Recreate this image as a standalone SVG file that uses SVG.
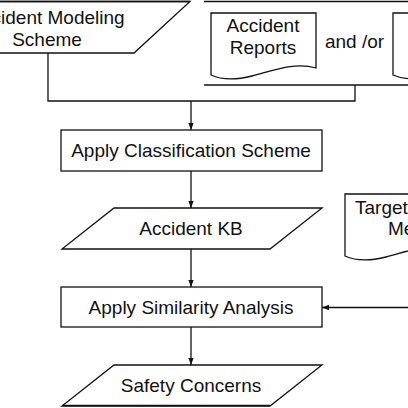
<svg xmlns="http://www.w3.org/2000/svg" width="408" height="408" viewBox="0 0 408 408">
<defs>
<style>
.s{fill:#fff;stroke:#111;stroke-width:1.3}
.l{fill:none;stroke:#111;stroke-width:1.3}
.t{font-family:"Liberation Sans",Arial,Helvetica,sans-serif;font-size:19px;fill:#111}
.m{text-anchor:middle}
</style>
<marker id="ah" viewBox="0 0 10 10" refX="10" refY="5" markerWidth="7" markerHeight="7" markerUnits="userSpaceOnUse" orient="auto">
<path d="M0,1.2 L10,5 L0,8.8 Z" fill="#111"/>
</marker>
</defs>
<rect width="408" height="408" fill="#fff"/>
<g id="connectors">
<polyline class="l" points="48,53 48,101 355,101 355,85"/>
<line class="l" x1="204" y1="85" x2="408" y2="85"/>
<line class="l" x1="204" y1="1.5" x2="408" y2="1.5" stroke-width="2.6"/>
<line class="l" x1="191" y1="101" x2="191" y2="130" marker-end="url(#ah)"/>
<line class="l" x1="191" y1="171" x2="191" y2="208" marker-end="url(#ah)"/>
<line class="l" x1="191" y1="249" x2="191" y2="287" marker-end="url(#ah)"/>
<line class="l" x1="191" y1="327" x2="191" y2="365" marker-end="url(#ah)"/>
<line class="l" x1="408" y1="307.5" x2="322" y2="307.5" marker-end="url(#ah)"/>
</g>
<g id="modeling-scheme">
<polygon class="s" points="-60,1.5 190,1.5 134,53 -60,53"/>
<line class="l" x1="0" y1="1.5" x2="190" y2="1.5" stroke-width="2.6"/>
<text class="t m" x="47" y="24">Accident Modeling</text>
<text class="t m" x="47" y="46">Scheme</text>
</g>
<g id="accident-reports">
<path class="s" d="M211,13 H316 V68 C295,62 275,70 252,76 C236,80 222,80 211,75 Z"/>
<text class="t m" x="263" y="32">Accident</text>
<text class="t m" x="263" y="54">Reports</text>
</g>
<g id="and-or">
<text class="t m" x="354.5" y="48">and /or</text>
</g>
<g id="right-document">
<path class="s" d="M393,13 H498 V68 C477,62 457,70 434,76 C418,80 404,80 393,75 Z"/>
</g>
<g id="classification">
<rect class="s" x="61" y="130" width="261" height="41"/>
<text class="t m" x="191" y="157">Apply Classification Scheme</text>
</g>
<g id="accident-kb">
<polygon class="s" points="114,208 322,208 270,249 62,249"/>
<text class="t m" x="191" y="235">Accident KB</text>
</g>
<g id="target-document">
<path class="s" d="M345,194 H450 V249 C429,243 409,251 386,257 C370,261 356,261 345,256 Z"/>
<text class="t" x="355" y="214">Target</text>
<text class="t" x="388" y="235">Me</text>
</g>
<g id="similarity">
<rect class="s" x="61" y="287" width="261" height="40"/>
<text class="t m" x="191" y="314">Apply Similarity Analysis</text>
</g>
<g id="safety-concerns">
<polygon class="s" points="114,365 322,365 270,406 62,406"/>
<line class="l" x1="62" y1="405.5" x2="270" y2="405.5" stroke-width="2.6"/>
<text class="t m" x="191" y="392">Safety Concerns</text>
</g>
</svg>
